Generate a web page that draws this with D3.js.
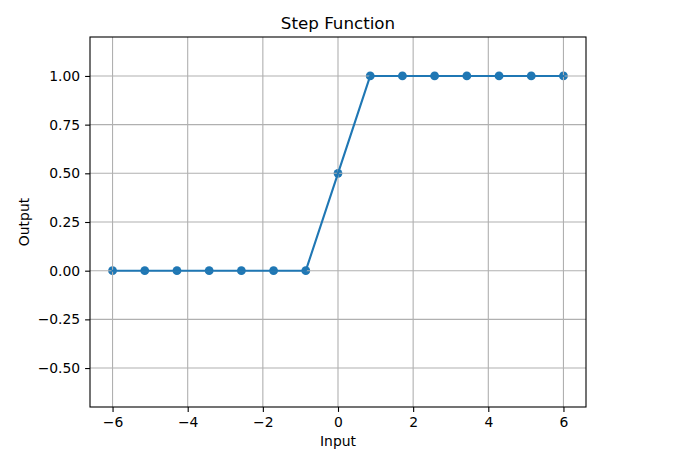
<!DOCTYPE html>
<html><head><meta charset="utf-8">
<script src="https://cdn.jsdelivr.net/npm/d3@7"></script>
<style>body{margin:0;background:#fff}svg{display:block}text{font-family:"DejaVu Sans",sans-serif}</style>
</head><body>
<script>
const xValues = [-6, -5.142857, -4.285714, -3.428571, -2.571429, -1.714286, -0.857143, 0, 0.857143, 1.714286, 2.571429, 3.428571, 4.285714, 5.142857, 6];
const yValues = [0, 0, 0, 0, 0, 0, 0, 0.5, 1, 1, 1, 1, 1, 1, 1];
const xTicks = [-6, -4, -2, 0, 2, 4, 6];
const yTicks = [-0.5, -0.25, 0, 0.25, 0.5, 0.75, 1.0];
const title = "Step Function", xLabel = "Input", yLabel = "Output";

const W = 680, H = 466;
const L = 90, R = 586, T = 37, B = 407;
const svg = d3.select("body").append("svg").attr("width", W).attr("height", H);
const x = d3.scaleLinear().domain([-6.6, 6.6]).range([L, R]);
const y = d3.scaleLinear().domain([-0.7, 1.2]).range([B, T]);
const blue = "#1f77b4";
const data = xValues.map((v, i) => [v, yValues[i]]);

// markers (below grid, as matplotlib scatter zorder)
svg.append("g").selectAll("circle").data(data).join("circle")
  .attr("cx", d => x(d[0])).attr("cy", d => y(d[1])).attr("r", 4.4).attr("fill", blue);

// grid
const grid = svg.append("g").attr("stroke", "#b0b0b0").attr("stroke-width", 1.1);
grid.selectAll("line.gx").data(xTicks).join("line").attr("class", "gx")
  .attr("x1", d => x(d)).attr("x2", d => x(d)).attr("y1", T).attr("y2", B);
grid.selectAll("line.gy").data(yTicks).join("line").attr("class", "gy")
  .attr("y1", d => y(d)).attr("y2", d => y(d)).attr("x1", L).attr("x2", R);

// line
svg.append("path").datum(data).attr("fill", "none").attr("stroke", blue).attr("stroke-width", 2.1)
  .attr("stroke-linejoin", "round").attr("stroke-linecap", "square")
  .attr("d", d3.line().x(d => x(d[0])).y(d => y(d[1])));

// axes
const fmtX = d => d < 0 ? "\u2212" + Math.abs(d) : String(d);
const fmtY = d => d < 0 ? "\u2212" + Math.abs(d).toFixed(2) : d.toFixed(2);
const xa = svg.append("g").attr("transform", `translate(0,${B})`)
  .call(d3.axisBottom(x).tickValues(xTicks).tickFormat(fmtX).tickSizeOuter(0).tickSize(4.9).tickPadding(4.9));
const ya = svg.append("g").attr("transform", `translate(${L},0)`)
  .call(d3.axisLeft(y).tickValues(yTicks).tickFormat(fmtY).tickSizeOuter(0).tickSize(4.9).tickPadding(4.9));
[xa, ya].forEach(a => {
  a.select(".domain").remove();
  a.selectAll(".tick line").attr("stroke", "#000").attr("stroke-width", 1.1);
  a.selectAll(".tick text").attr("font-size", "13.9px").attr("fill", "#000").attr("font-family", "DejaVu Sans");
});
svg.append("rect").attr("x", L).attr("y", T).attr("width", R - L).attr("height", B - T)
  .attr("fill", "none").attr("stroke", "#000").attr("stroke-width", 1.1);

svg.append("text").attr("x", (L + R) / 2).attr("y", 29).attr("text-anchor", "middle")
  .attr("font-size", "16.7px").text(title);
svg.append("text").attr("x", (L + R) / 2).attr("y", 446).attr("text-anchor", "middle")
  .attr("font-size", "13.9px").text(xLabel);
svg.append("text").attr("transform", `translate(29,${(T + B) / 2}) rotate(-90)`).attr("text-anchor", "middle")
  .attr("font-size", "13.9px").text(yLabel);
</script>
</body></html>
